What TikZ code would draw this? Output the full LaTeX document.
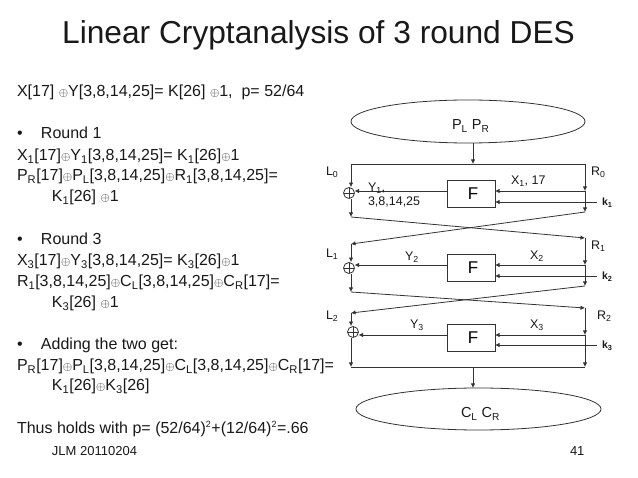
\documentclass[tikz,border=0pt]{standalone}
\usepackage{fontspec}
\setmainfont{Liberation Sans}
\usetikzlibrary{shapes.geometric,arrows.meta}
\newcommand{\lo}[1]{\textsubscript{#1}}
\newcommand{\hi}[1]{\textsuperscript{\fontsize{9}{9}\selectfont #1}}
\newcommand{\xr}{\raisebox{0.5pt}{\fontsize{12}{12}\selectfont$\oplus$}}
\tikzset{
  txt/.style={anchor=base west,inner sep=0pt,outer sep=0pt,font=\fontsize{16}{20}\selectfont,text=black!90},
  lab/.style={anchor=base west,inner sep=0pt,outer sep=0pt,font=\fontsize{12.5}{15}\selectfont,text=black!90},
  keylab/.style={anchor=base west,inner sep=0pt,outer sep=0pt,font=\fontsize{10.5}{12}\selectfont\bfseries,text=black!90},
  wire/.style={draw=black!80,line width=0.8pt},
  arr/.style={wire,-{Latex[length=4.5pt,width=4.5pt]}},
  fbox/.style={draw=black!80,line width=0.8pt,minimum width=48pt,minimum height=27pt,inner sep=0pt,font=\fontsize{17}{20}\selectfont},
  oval/.style={ellipse,draw=black!80,line width=0.8pt,inner sep=0pt,font=\fontsize{14.5}{20}\selectfont,text=black!90},
  xorc/.style={circle,draw=black!80,line width=0.8pt,minimum size=11pt,inner sep=0pt,
    path picture={\draw[black!80,line width=0.7pt] (path picture bounding box.north)--(path picture bounding box.south) (path picture bounding box.west)--(path picture bounding box.east);}}
}
\begin{document}
\begin{tikzpicture}[x=1pt,y=-1pt]
\useasboundingbox (0,0) rectangle (638,478);
\fill[white] (0,0) rectangle (638,478);
\node[anchor=base west,inner sep=0pt,font=\fontsize{31.7}{36}\selectfont,text=black!90] (title) at (62,44) {Linear Cryptanalysis of 3 round DES};
% left text
\node[txt] (t1) at (17,97) {X[17] \xr Y[3,8,14,25]= K[26] \xr 1,\ \ p= 52/64};
\node[txt] (t2a) at (17,139) {•};
\node[txt] (t2) at (41,139) {Round 1};
\node[txt] (t3) at (17,161) {X\lo{1}[17]\xr Y\lo{1}[3,8,14,25]= K\lo{1}[26]\xr 1};
\node[txt] (t4) at (17,181) {P\lo{R}[17]\xr P\lo{L}[3,8,14,25]\xr R\lo{1}[3,8,14,25]=};
\node[txt] (t5) at (52,202) {K\lo{1}[26] \xr 1};
\node[txt] (t6a) at (17,245) {•};
\node[txt] (t6) at (41,245) {Round 3};
\node[txt] (t7) at (17,266) {X\lo{3}[17]\xr Y\lo{3}[3,8,14,25]= K\lo{3}[26]\xr 1};
\node[txt] (t8) at (17,287) {R\lo{1}[3,8,14,25]\xr C\lo{L}[3,8,14,25]\xr C\lo{R}[17]=};
\node[txt] (t9) at (52,308) {K\lo{3}[26] \xr 1};
\node[txt] (t10a) at (17,350) {•};
\node[txt] (t10) at (41,350) {Adding the two get:};
\node[txt] (t11) at (17,371) {P\lo{R}[17]\xr P\lo{L}[3,8,14,25]\xr C\lo{L}[3,8,14,25]\xr C\lo{R}[17]=};
\node[txt] (t12) at (52,391) {K\lo{1}[26]\xr K\lo{3}[26]};
\node[txt] (t13) at (17,434) {Thus holds with p= (52/64)\hi{2}+(12/64)\hi{2}=.66};
\node[lab,font=\fontsize{13}{16}\selectfont] (foot) at (52,456) {JLM 20110204};
\node[lab,font=\fontsize{13}{16}\selectfont] (num) at (570,456) {41};
% shapes
\node[oval,minimum width=234pt,minimum height=43pt] (PT) at (468,121.5) {};
\node[oval,minimum width=245pt,minimum height=42pt] (CT) at (478.5,409) {};
\node[lab,font=\fontsize{14.5}{18}\selectfont] (PTt) at (452,130) {P\lo{L} P\lo{R}};
\node[lab,font=\fontsize{14.5}{18}\selectfont] (CTt) at (461,418) {C\lo{L} C\lo{R}};
\node[fbox] (F1) at (471,193.5) {\hspace*{4pt}F};
\node[fbox] (F2) at (471,268) {\hspace*{4pt}F};
\node[fbox] (F3) at (471,337.5) {\hspace*{4pt}F};
\node[xorc] (X1) at (349,193) {};
\node[xorc] (X2) at (349,268) {};
\node[xorc] (X3) at (353,332) {};
% coordinates
\foreach \n/\x/\y in {PTa/473/143, T/473/164, TL/351/164, TR/585/164,
  R1a/585/191, R1b/585/212, L1a/351/217, L1b/351/244, R2t/585/238,
  K1/597/202, F1k/495/202, F1r/495/191, F1l/447/191, X1r/354.5/191,
  R2a/585/265, R2b/585/286, L2a/351/292, L2b/351/313, R3t/585/308,
  K2/597/276, F2k/495/276, F2r/495/265, F2l/447/265, X2r/354.5/265,
  R3a/585/335, K3/597/345, F3k/495/345, F3r/495/335, F3l/447/335, X3r/358.5/335,
  BL/351/367, BR/585/367, B/473/367, CTa/473/388} {
  \coordinate (\n) at (\x,\y);
}
% wires
\draw[arr] (PTa) -- (T);
\draw[wire] (TL) -- (TR);
\draw[arr] (TL) -- (X1.north -| TL);
\draw[arr] (TR) -- (R1a);
\draw[arr] (R1a) -- (R1b);
\draw[arr] (R1a) -- (F1r);
\draw[arr] (K1) -- (F1k);
\draw[arr] (F1l) -- (X1r);
\draw[arr] (X1.south -| L1a) -- (L1a);
\draw[arr] (L1a) -- (R2t);
\draw[arr] (R1b) -- (L1b);
\draw[arr] (L1b) -- (X2.north -| L1b);
\draw[arr] (R2t) -- (R2a);
\draw[arr] (R2a) -- (R2b);
\draw[arr] (R2a) -- (F2r);
\draw[arr] (K2) -- (F2k);
\draw[arr] (F2l) -- (X2r);
\draw[arr] (X2.south -| L2a) -- (L2a);
\draw[arr] (L2a) -- (R3t);
\draw[arr] (R2b) -- (L2b);
\draw[arr] (L2b) -- (X3.north -| L2b);
\draw[arr] (R3t) -- (R3a);
\draw[arr] (R3a) -- (BR);
\draw[arr] (R3a) -- (F3r);
\draw[arr] (K3) -- (F3k);
\draw[arr] (F3l) -- (X3r);
\draw[arr] (X3.south -| BL) -- (BL);
\draw[wire] (BL) -- (BR);
\draw[arr] (B) -- (CTa);
% labels
\node[lab] (l0) at (326,176) {L\lo{0}};
\node[lab] (r0) at (591,176) {R\lo{0}};
\node[lab] (l1) at (326,258) {L\lo{1}};
\node[lab] (r1) at (591,250) {R\lo{1}};
\node[lab] (l2) at (326,320) {L\lo{2}};
\node[lab] (r2) at (597,320) {R\lo{2}};
\node[lab] (y1) at (368,192) {Y\lo{1},};
\node[lab] (y1b) at (368,206) {3,8,14,25};
\node[lab] (x1) at (511,185) {X\lo{1}, 17};
\node[lab] (y2) at (405,261) {Y\lo{2}};
\node[lab] (x2) at (530,260) {X\lo{2}};
\node[lab] (y3) at (410,329) {Y\lo{3}};
\node[lab] (x3) at (530,329) {X\lo{3}};
\node[keylab] (k1) at (602,206) {k\lo{1}};
\node[keylab] (k2) at (602,280) {k\lo{2}};
\node[keylab] (k3) at (602,349) {k\lo{3}};
\end{tikzpicture}
\end{document}
